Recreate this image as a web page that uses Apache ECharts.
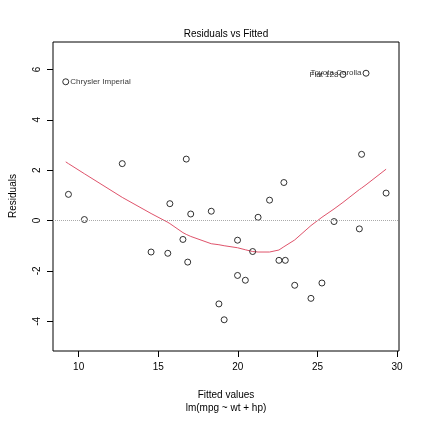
<!DOCTYPE html>
<html><head><meta charset="utf-8">
<script src="https://cdn.jsdelivr.net/npm/echarts@6/dist/echarts.min.js"></script>
<style>html,body{margin:0;padding:0;background:#fff}#c{width:437px;height:431px}</style>
</head><body><div id="c"></div>
<script>
const carNames = ['Mazda RX4','Mazda RX4 Wag','Datsun 710','Hornet 4 Drive','Hornet Sportabout','Valiant','Duster 360','Merc 240D','Merc 230','Merc 280','Merc 280C','Merc 450SE','Merc 450SL','Merc 450SLC','Cadillac Fleetwood','Lincoln Continental','Chrysler Imperial','Fiat 128','Honda Civic','Toyota Corolla','Toyota Corona','Dodge Challenger','AMC Javelin','Camaro Z28','Pontiac Firebird','Fiat X1-9','Porsche 914-2','Lotus Europa','Ford Pantera L','Ferrari Dino','Maserati Bora','Volvo 142E'];
const fitted = [23.57,22.58,25.28,21.27,18.33,20.47,15.60,22.89,21.99,19.98,19.98,15.73,17.04,16.85,10.36,9.36,9.19,26.60,29.31,28.05,24.59,18.81,19.14,14.55,16.76,27.63,26.04,27.77,16.55,20.93,12.74,22.98];
const residuals = [-2.57,-1.58,-2.48,0.13,0.37,-2.37,-1.30,1.51,0.81,-0.78,-2.18,0.67,0.26,-1.65,0.04,1.04,5.51,5.80,1.09,5.85,-3.09,-3.31,-3.94,-1.25,2.44,-0.33,-0.04,2.63,-0.75,-1.23,2.26,-1.58];
const labelledCars = ['Chrysler Imperial','Fiat 128','Toyota Corolla'];
const smoothX = [9.19,9.36,10.36,12.74,14.55,15.60,15.73,16.55,16.76,16.85,17.04,18.33,18.81,19.14,19.98,20.47,20.93,21.27,21.99,22.58,22.89,22.98,23.57,24.59,25.28,26.04,26.60,27.63,27.77,28.05,29.31];
const smoothY = [2.33,2.26,1.86,0.92,0.28,-0.07,-0.12,-0.48,-0.55,-0.58,-0.63,-0.92,-0.96,-1.00,-1.08,-1.16,-1.23,-1.25,-1.25,-1.17,-1.04,-1.00,-0.77,-0.20,0.13,0.46,0.72,1.23,1.29,1.42,2.04];
const xTicks = [10,15,20,25,30];
const yTicks = [-4,-2,0,2,4,6];
const chartTitle = 'Residuals vs Fitted';
const xTitle1 = 'Fitted values';
const xTitle2 = 'lm(mpg ~ wt + hp)';
const yTitle = 'Residuals';

const FONT = '"Liberation Sans", Arial, sans-serif';
const xMin = 8.39, xMax = 30.12, yMin = -5.18, yMax = 7.09;
const midX = (Math.min(...fitted) + Math.max(...fitted)) / 2;

const pointData = fitted.map((f, i) => {
  const item = { name: carNames[i], value: [f, residuals[i]] };
  if (labelledCars.includes(carNames[i])) {
    item.label = { show: true, position: f > midX ? 'left' : 'right', formatter: '{b}',
      distance: 1, fontSize: 8, color: '#000', fontFamily: FONT };
  }
  return item;
});

const chart = echarts.init(document.getElementById('c'), null, { renderer: 'canvas' });
chart.setOption({
  animation: false,
  backgroundColor: '#fff',
  grid: { left: 53, top: 42, width: 346, height: 309, show: true, borderColor: '#000', borderWidth: 1, backgroundColor: 'transparent' },
  xAxis: {
    type: 'value', min: xMin, max: xMax, position: 'bottom',
    axisLine: { show: false, onZero: false },
    splitLine: { show: false },
    axisTick: { show: true, inside: false, length: 6, customValues: xTicks, lineStyle: { color: '#000' } },
    axisLabel: { customValues: xTicks, margin: 11, fontSize: 10, color: '#000', fontFamily: FONT }
  },
  yAxis: {
    type: 'value', min: yMin, max: yMax, position: 'left',
    axisLine: { show: false, onZero: false },
    splitLine: { show: false },
    axisTick: { show: true, inside: false, length: 6, customValues: yTicks, lineStyle: { color: '#000' } },
    axisLabel: { customValues: yTicks, rotate: 90, margin: 11, fontSize: 10, color: '#000', fontFamily: FONT }
  },
  graphic: [
    { type: 'text', x: 226, y: 34.5, style: { text: chartTitle, fontSize: 10, fill: '#000', fontFamily: FONT, align: 'center', verticalAlign: 'middle' } },
    { type: 'text', x: 226, y: 395, style: { text: xTitle1, fontSize: 10, fill: '#000', fontFamily: FONT, align: 'center', verticalAlign: 'middle' } },
    { type: 'text', x: 226, y: 408, style: { text: xTitle2, fontSize: 10, fill: '#000', fontFamily: FONT, align: 'center', verticalAlign: 'middle' } },
    { type: 'text', x: 13, y: 196, rotation: Math.PI / 2, style: { text: yTitle, fontSize: 10, fill: '#000', fontFamily: FONT, align: 'center', verticalAlign: 'middle' } }
  ],
  series: [
    {
      type: 'line', data: [], silent: true,
      markLine: { silent: true, symbol: 'none', label: { show: false },
        lineStyle: { type: 'dotted', color: '#aaa', width: 1 }, data: [{ yAxis: 0 }] }
    },
    {
      type: 'line', data: smoothX.map((x, i) => [x, smoothY[i]]), showSymbol: false, symbol: 'none',
      lineStyle: { color: '#DF536B', width: 1 }, z: 3
    },
    {
      type: 'scatter', data: pointData, symbol: 'circle', symbolSize: 6,
      itemStyle: { color: 'rgba(0,0,0,0)', borderColor: '#000', borderWidth: 1 }, z: 4
    }
  ]
});
</script></body></html>
